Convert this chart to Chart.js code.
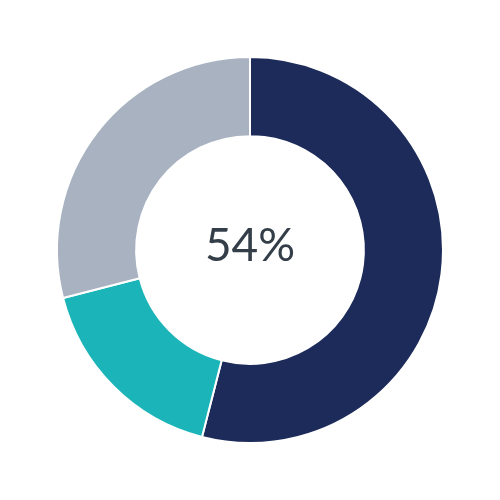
<!DOCTYPE html>
<html>
<head>
<meta charset="utf-8">
<script src="https://cdn.jsdelivr.net/npm/chart.js@4"></script>
<style>
  html, body { margin: 0; padding: 0; background: #fff; }
  #wrap { width: 500px; height: 500px; }
</style>
</head>
<body>
<div id="wrap"><canvas id="grafico"></canvas></div>
<script>
const categorias = ['A', 'B', 'C'];
const valores = [54, 17, 29];
const cores = ['#1c2b5a', '#1bb5b9', '#a8b2c1'];
const textoCentro = '54%';

// escreve o percentual no meio do anel
const centroTexto = {
    id: 'centroTexto',
    afterDraw(chart) {
        const meta = chart.getDatasetMeta(0).data[0];
        const c = chart.ctx;
        c.save();
        c.font = '400 46px Lato, sans-serif';
        c.fillStyle = '#343e49';
        c.textAlign = 'center';
        c.textBaseline = 'middle';
        c.fillText(textoCentro, meta.x, meta.y - 4);
        c.restore();
    }
};

window.onload = function(){
    const ctx = document.getElementById('grafico');
    new Chart(ctx, {
        type: 'doughnut',
        data: {
            labels: categorias,
            datasets: [{
                data: valores,
                backgroundColor: cores,
                borderColor: '#ffffff',
                borderWidth: 2,
                hoverOffset: 0
            }]
        },
        options: {
            responsive: true,
            maintainAspectRatio: false,
            animation: false,
            cutout: '59%',
            layout: { padding: 56 },
            plugins: {
                legend: { display: false },
                tooltip: { enabled: false }
            }
        },
        plugins: [centroTexto]
    });
}
</script>
</body>
</html>
